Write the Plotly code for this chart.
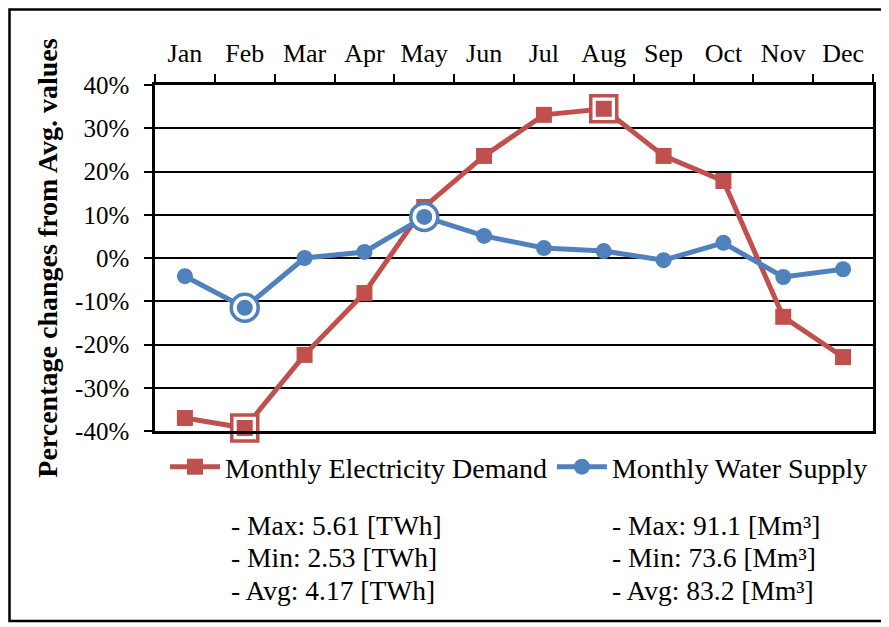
import plotly.graph_objects as go
import numpy as np

months = ["Jan", "Feb", "Mar", "Apr", "May", "Jun", "Jul", "Aug", "Sep", "Oct", "Nov", "Dec"]
elec_pct = [-37.0, -39.3, -22.4, -8.1, 11.8, 23.6, 33.1, 34.5, 23.6, 17.8, -13.6, -22.9]
water_pct = [-4.2, -11.5, 0.0, 1.4, 9.5, 5.1, 2.3, 1.6, -0.5, 3.5, -4.4, -2.6]
y_ticks = [40, 30, 20, 10, 0, -10, -20, -30, -40]
y_tick_labels = ["40%", "30%", "20%", "10%", "0%", "-10%", "-20%", "-30%", "-40%"]
elec_stats = ["- Max: 5.61 [TWh]", "- Min: 2.53 [TWh]", "- Avg: 4.17 [TWh]"]
water_stats = ["- Max: 91.1 [Mm³]", "- Min: 73.6 [Mm³]", "- Avg: 83.2 [Mm³]"]

RED = "#C0504D"
BLUE = "#4F81BD"
FONT = "Liberation Serif"

def extremes(vals):
    a = np.array(vals)
    return [int(a.argmin()), int(a.argmax())]

fig = go.Figure()

# Electricity
fig.add_trace(go.Scatter(
    x=months, y=elec_pct, mode="lines+markers", name="Monthly Electricity Demand",
    line=dict(color=RED, width=5), cliponaxis=False,
    marker=dict(symbol="square", size=16, color=RED),
))
ei = extremes(elec_pct)
fig.add_trace(go.Scatter(
    x=[months[i] for i in ei], y=[elec_pct[i] for i in ei], mode="markers", showlegend=False,
    marker=dict(symbol="square", size=26, color="white", line=dict(color=RED, width=3.5)),
    hoverinfo="skip", cliponaxis=False,
))
fig.add_trace(go.Scatter(
    x=[months[i] for i in ei], y=[elec_pct[i] for i in ei], mode="markers", showlegend=False,
    marker=dict(symbol="square", size=16, color=RED),
    hoverinfo="skip", cliponaxis=False,
))

# Water
fig.add_trace(go.Scatter(
    x=months, y=water_pct, mode="lines+markers", name="Monthly Water Supply",
    line=dict(color=BLUE, width=5), cliponaxis=False,
    marker=dict(symbol="circle", size=16, color=BLUE),
))
wi = extremes(water_pct)
fig.add_trace(go.Scatter(
    x=[months[i] for i in wi], y=[water_pct[i] for i in wi], mode="markers", showlegend=False,
    marker=dict(symbol="circle", size=27, color="white", line=dict(color=BLUE, width=3.5)),
    hoverinfo="skip", cliponaxis=False,
))
fig.add_trace(go.Scatter(
    x=[months[i] for i in wi], y=[water_pct[i] for i in wi], mode="markers", showlegend=False,
    marker=dict(symbol="circle", size=16, color=BLUE),
    hoverinfo="skip", cliponaxis=False,
))

# page places the figure 8px in from the window corner
OFF = 8
W, H = 889, 627
PL, PR, PT, PB = 155, 873, 85, 431  # plot box in window pixels
L, T = PL - OFF, PT - OFF
R, B = W - (PR - OFF), H - (PB - OFF)
pw, ph = PR - PL, PB - PT

def px_x(x):
    return (x - PL) / pw

def px_y(y):
    return (PB - y) / ph

annotations = []
for k, (es, ws) in enumerate(zip(elec_stats, water_stats)):
    yy = [525, 557, 590][k]
    annotations.append(dict(text=es, x=px_x(229), y=px_y(yy), xref="paper", yref="paper",
                            xanchor="left", yanchor="middle", showarrow=False,
                            font=dict(family=FONT, size=27.5, color="black")))
    annotations.append(dict(text=ws, x=px_x(610), y=px_y(yy), xref="paper", yref="paper",
                            xanchor="left", yanchor="middle", showarrow=False,
                            font=dict(family=FONT, size=27.5, color="black")))

fig.update_layout(
    width=W, height=H,
    margin=dict(l=L, r=R, t=T, b=B),
    paper_bgcolor="white", plot_bgcolor="white",
    font=dict(family=FONT, size=24, color="black"),
    showlegend=True,
    legend=dict(orientation="h", x=px_x(165), y=px_y(467), xanchor="left", yanchor="middle",
                font=dict(family=FONT, size=28, color="black"), itemwidth=50,
                bgcolor="rgba(0,0,0,0)", tracegroupgap=0),
    annotations=annotations,
    shapes=[dict(type="rect", xref="paper", yref="paper",
                 x0=px_x(9.5), x1=px_x(884), y0=px_y(621), y1=px_y(9.5),
                 line=dict(color="black", width=2.5), fillcolor="rgba(0,0,0,0)", layer="below")],
)

fig.update_xaxes(
    side="top", type="category", categoryorder="array", categoryarray=months,
    showline=True, linecolor="black", linewidth=2.5, mirror=True,
    ticks="outside", tickson="boundaries", ticklen=8, tickwidth=2, tickcolor="black",
    ticklabelstandoff=10,
    showgrid=False, tickfont=dict(family=FONT, size=26, color="black"),
    range=[-0.5, 11.5],
)
fig.update_yaxes(
    range=[-40, 40], tickvals=y_ticks, ticktext=y_tick_labels,
    showline=True, linecolor="black", linewidth=2.5, mirror=True,
    ticks="outside", ticklen=8, tickwidth=2, tickcolor="black",
    ticklabelstandoff=10,
    showgrid=True, gridcolor="black", gridwidth=2, zeroline=False,
    tickfont=dict(family=FONT, size=25, color="black"),
    title=dict(text="<b>Percentage changes from Avg. values</b>", standoff=10,
               font=dict(family=FONT, size=28, color="black")),
)

fig.write_html("out.html")
